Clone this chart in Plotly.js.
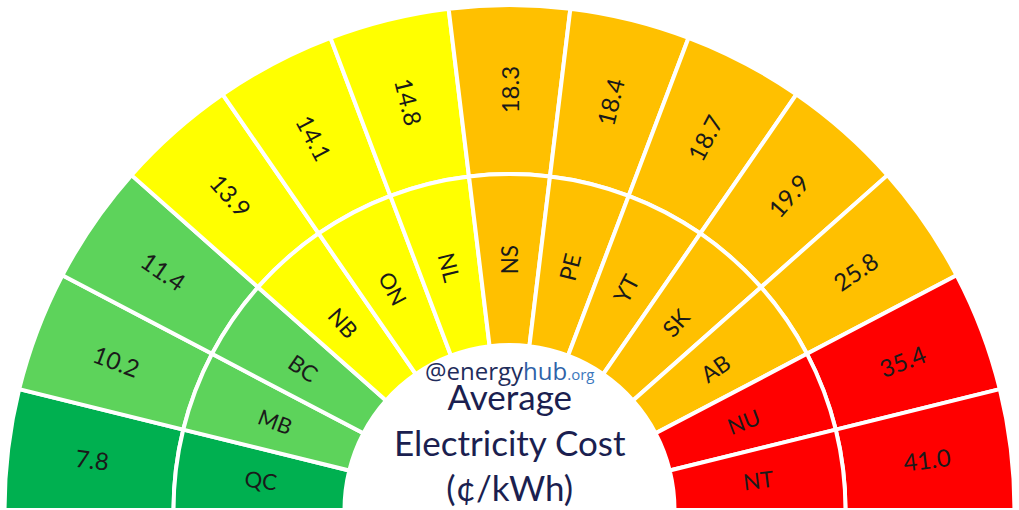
<!DOCTYPE html>
<html><head><meta charset="utf-8">
<script src="https://cdn.plot.ly/plotly-3.0.1.min.js"></script>
<style>
html,body{margin:0;padding:0;overflow:hidden;background:#fff}
#wrap{width:1019px;height:510px;overflow:hidden;position:relative}
#chart{width:1019px;height:1020px}
</style>
</head><body><div id="wrap"><div id="chart"></div></div>
<script>
// Data
const provinces = ['QC','MB','BC','NB','ON','NL','NS','PE','YT','SK','AB','NU','NT'];
const costs = [7.8, 10.2, 11.4, 13.9, 14.1, 14.8, 18.3, 18.4, 18.7, 19.9, 25.8, 35.4, 41.0];
const costLabels = costs.map(v => v.toFixed(1));

// Styles
const sliceColors = ['#00b050','#5dd35b','#5dd35b','#ffff00','#ffff00','#ffff00',
  '#ffc000','#ffc000','#ffc000','#ffc000','#ffc000','#ff0000','#ff0000'];

const W = 1019, H = 1020, cx = 509.5, cy = 510;
const R = 505, Rm = 336, Rh = 165;

const weights = provinces.map(() => 1);
const hiddenWeight = weights.reduce((a, b) => a + b, 0);

// symmetric non-breaking padding keeps radial labels centred in their ring
function pad(s, n) { const p = '\u00a0'.repeat(n); return p + s + p; }

function ringTrace(labels, texts, rOuter, rInner, padN) {
  return {
    type: 'pie',
    values: weights.concat([hiddenWeight]),
    labels: labels.concat(['hidden']),
    text: texts.map(t => pad(t, padN)).concat(['']),
    textinfo: 'text',
    textposition: 'inside',
    insidetextorientation: 'radial',
    insidetextfont: {family: 'Lato, "Open Sans", sans-serif', size: 24, color: '#1a1a1a'},
    marker: {colors: sliceColors.concat(['rgba(255,255,255,0)']), line: {color: '#ffffff', width: 4}},
    sort: false,
    direction: 'clockwise',
    rotation: -90,
    hole: rInner / rOuter,
    hoverinfo: 'none',
    showlegend: false,
    domain: {
      x: [(cx - rOuter) / W, (cx + rOuter) / W],
      y: [((H - cy) - rOuter) / H, ((H - cy) + rOuter) / H]
    }
  };
}

const data = [
  ringTrace(provinces, costLabels, R, Rm, 8),
  ringTrace(provinces, provinces, Rm, Rh, 12)
];

function py(pix) { return (H - pix) / H; }
const navy = '#1b1f50';
const layout = {
  width: W, height: H,
  margin: {l: 0, r: 0, t: 0, b: 0},
  paper_bgcolor: '#ffffff',
  showlegend: false,
  annotations: [
    {xref: 'paper', yref: 'paper', x: 0.5, y: py(370), showarrow: false,
     text: '<span style="color:#1f2d5c">@energy</span><span style="color:#2f63a8">hub</span><span style="color:#3b78bd;font-size:15px">.org</span>',
     font: {family: '"Open Sans", sans-serif', size: 24}},
    {xref: 'paper', yref: 'paper', x: 0.5, y: py(441), showarrow: false,
     text: 'Average<br>Electricity Cost<br>(¢/kWh)', borderpad: 0,
     font: {family: 'Lato, sans-serif', size: 35, color: navy}}
  ]
};

Plotly.newPlot('chart', data, layout, {displayModeBar: false, staticPlot: true});
</script>
</body></html>
